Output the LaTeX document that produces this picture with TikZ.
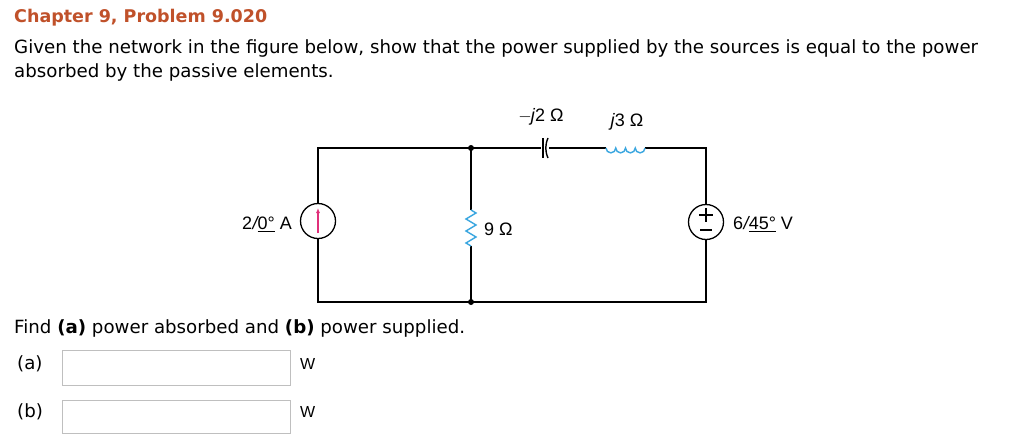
\documentclass[tikz,border=0pt]{standalone}
\usepackage{fontspec}
\setmainfont{DejaVu Sans}
\newfontfamily\cfont{Liberation Sans}
\usetikzlibrary{arrows.meta}
\definecolor{ttl}{HTML}{C0512A}
\definecolor{res}{HTML}{3BA7E0}
\definecolor{arr}{HTML}{E0307A}
\newcommand{\ang}[1]{\kern0.5pt\textit{/}\kern-1.5pt\underline{#1}}
\begin{document}
\begin{tikzpicture}[x=1pt,y=-1pt,
  wire/.style={line width=1.6pt},
  txt/.style={anchor=west,inner sep=0pt,font=\fontsize{18.2}{21}\selectfont},
  lbl/.style={inner sep=0pt,font=\cfont\fontsize{18}{20}\selectfont},
  box/.style={draw=black!25,line width=0.8pt}]
\useasboundingbox[fill=white] (0,0) rectangle (1024,442);
\node[txt,text=ttl,font=\bfseries\fontsize{17.5}{21}\selectfont] (title) at (14,18) {Chapter 9, Problem 9.020};
\node[txt] (l1) at (14,48) {Given the network in the figure below, show that the power supplied by the sources is equal to the power};
\node[txt] (l2) at (14,72) {absorbed by the passive elements.};
% circuit
\coordinate (tl) at (318,148); \coordinate (tm) at (471,148); \coordinate (tr) at (706,148);
\coordinate (bl) at (318,302); \coordinate (bm) at (471,302); \coordinate (br) at (706,302);
\node[circle,draw,line width=1.3pt,minimum size=35pt,inner sep=0pt] (cs) at (318,221) {};
\node[circle,draw,line width=1.3pt,minimum size=35pt,inner sep=0pt] (vs) at (706,222) {};
\draw[arr,line width=1.2pt,-{Latex[length=5pt,width=4pt]}] (318,233) -- (318,208);
\draw[line width=1.1pt] (699,215) -- (713,215) (706,208) -- (706,222);
\draw[line width=1.1pt] (700,230) -- (712,230);
\coordinate (c1) at (541,148); \coordinate (c2) at (549,148);
\coordinate (i1) at (606,148); \coordinate (i2) at (645,148);
\coordinate (r1) at (471,210); \coordinate (r2) at (471,246);
\draw[wire] (cs.north) -- (tl) -- (tm) -- (c1);
\draw[wire] (c2) -- (i1); \draw[wire] (i2) -- (tr) -- (vs.north);
\draw[wire] (cs.south) -- (bl) -- (br) -- (vs.south);
\draw[wire] (tm) -- (r1); \draw[wire] (r2) -- (bm);
\draw[line width=1.4pt] (543,138) -- (543,158);
\draw[line width=1.4pt] (548,138) .. controls (545,145) and (545,151) .. (548,158);
\draw[res,line width=1.4pt] (i1) \foreach \k in {0,1,2,3}{ arc[start angle=180,end angle=0,radius=4.875] };
\draw[res,line width=1.4pt] (r1) -- (476,213) -- (466,219) -- (476,225) -- (466,231) -- (476,237) -- (466,243) -- (r2);
\fill (tm) circle (3pt); \fill (bm) circle (3pt);
\node[lbl] (lc) at (541,117) {$-$\kern-1pt\textit{j}2 Ω};
\node[lbl] (li) at (627,122) {\textit{j}3 Ω};
\node[lbl,anchor=east] (lcs) at (292,224) {2\ang{0°} A};
\node[lbl,anchor=west] (lr) at (484,229) {9 Ω};
\node[lbl,anchor=west] (lvs) at (733,224) {6\ang{45°} V};
% questions
\node[txt] (find) at (14,328) {Find \textbf{(a)} power absorbed and \textbf{(b)} power supplied.};
\node[txt] (qa) at (17,364) {(a)};
\node[txt] (qb) at (17,412) {(b)};
\draw[box] (62,350) rectangle (290,385);
\draw[box] (62,400) rectangle (290,433);
\node[txt,font=\cfont\fontsize{16}{18}\selectfont] (wa) at (300,364) {W};
\node[txt,font=\cfont\fontsize{16}{18}\selectfont] (wb) at (300,412) {W};
\end{tikzpicture}
\end{document}
